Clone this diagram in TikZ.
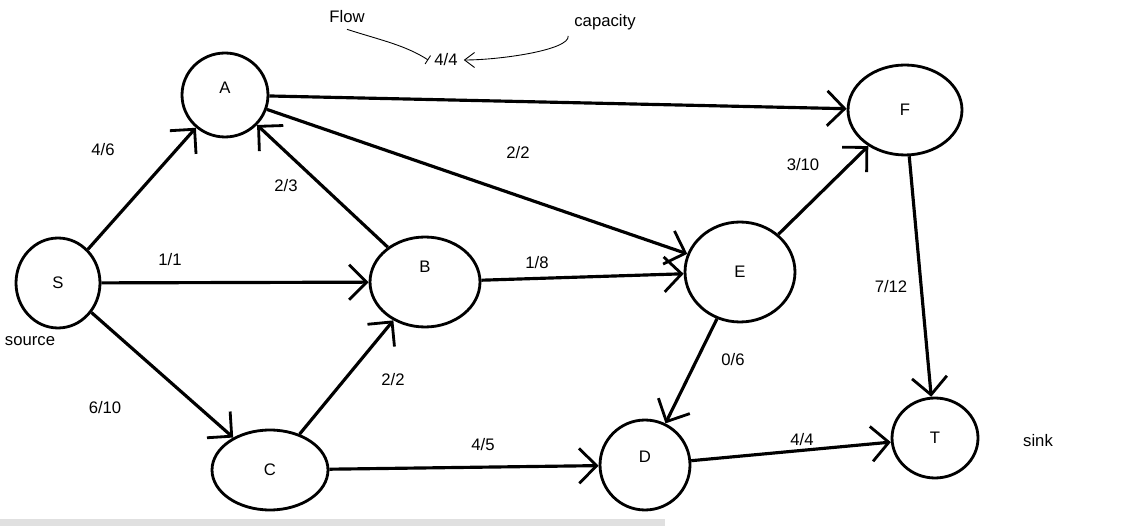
\documentclass[tikz,border=0pt]{standalone}
\usepackage{fontspec}
\setmainfont{Liberation Sans}
\usetikzlibrary{arrows.meta,shapes.geometric}
\begin{document}
\begin{tikzpicture}[x=0.02cm,y=-0.02cm,
  every node/.style={font=\fontsize{9.5}{11}\selectfont},
  nd/.style={draw,ellipse,line width=1.6pt,inner sep=0pt},
  e/.style={line width=1.8pt,-{Straight Barb[length=3.5mm,width=7mm,line width=1.6pt]}},
  lbl/.style={}]
\useasboundingbox (0,0) rectangle (1135,526);
\fill[black!12] (0,519) rectangle (665,526);
\node[nd,minimum width=1.68cm,minimum height=1.8cm] (S) at (58,283) {S};
\node[nd,minimum width=1.72cm,minimum height=1.68cm] (A) at (225,95) {};
\node at (225,88) {A};
\node[nd,minimum width=2.2cm,minimum height=1.8cm] (B) at (425,282) {};
\node at (425,267) {B};
\node[nd,minimum width=2.32cm,minimum height=1.6cm] (C) at (270,470) {C};
\node[nd,minimum width=1.8cm,minimum height=1.8cm] (D) at (645,465) {};
\node at (645,457) {D};
\node[nd,minimum width=2.2cm,minimum height=2cm] (E) at (740,272) {E};
\node[nd,minimum width=2.28cm,minimum height=1.8cm] (F) at (905,110) {F};
\node[nd,minimum width=1.72cm,minimum height=1.6cm] (T) at (935,438) {T};
\draw[e] (S) -- (A);
\draw[e] (S) -- (B);
\draw[e] (S) -- (C);
\draw[e] (A) -- (F);
\draw[e] (A) -- (E);
\draw[e] (B) -- (A);
\draw[e] (B) -- (E);
\draw[e] (C) -- (B);
\draw[e] (C) -- (D);
\draw[e] (E) -- (F);
\draw[e] (E) -- (D);
\draw[e] (F) -- (T);
\draw[e] (D) -- (T);
\node at (103,150) {4/6};
\node at (170,260) {1/1};
\node at (105,408) {6/10};
\node at (286,186) {2/3};
\node at (518,153) {2/2};
\node at (537,263) {1/8};
\node at (393,380) {2/2};
\node at (483,445) {4/5};
\node at (733,360) {0/6};
\node at (802,440) {4/4};
\node at (803,165) {3/10};
\node at (891,287) {7/12};
\node (fl) at (347,17) {Flow};
\node (cap) at (605,22) {capacity};
\node (q) at (446,60) {4/4};
\node at (30,341) {source};
\node at (1038,441) {sink};
\draw[line width=0.5pt,-{Bar[width=2mm]}] (fl.south) .. controls (380,40) and (405,45) .. (q.west);
\draw[line width=0.5pt,-{Straight Barb[length=2mm,width=3mm]}] (cap.south west) .. controls (570,50) and (500,60) .. (q.east);
\end{tikzpicture}
\end{document}
